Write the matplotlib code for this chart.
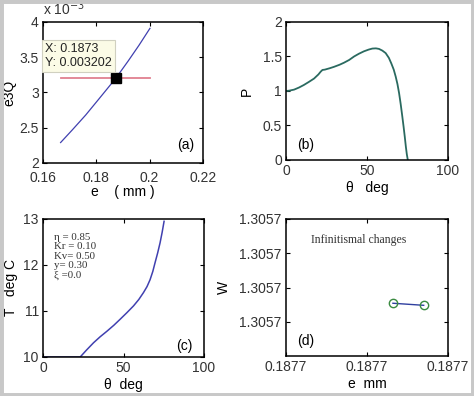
import matplotlib
matplotlib.use('Agg')
import matplotlib.pyplot as plt
from matplotlib.patches import Rectangle
from matplotlib.ticker import FuncFormatter, FixedLocator

# (a) e3Q versus eccentricity
e_a = [0.1666, 0.1710, 0.1760, 0.1810, 0.1873, 0.1920, 0.1960, 0.2001]
e3q_a = [2.29e-3, 2.47e-3, 2.68e-3, 2.91e-3, 3.202e-3, 3.45e-3, 3.67e-3, 3.91e-3]
hline_x = [0.1666, 0.2001]
hline_y = 3.202e-3
tip_x, tip_y = 0.1873, 0.003202

# (b) P versus theta
theta_b = [0, 2, 5, 8, 11, 14, 17.3, 20, 21.4, 22.5, 24, 27, 29.6, 33, 35.8, 39,
           42, 45, 48.1, 51, 53.3, 55.5, 57.4, 59.5, 61.5, 63.5, 65, 66.5, 67.7,
           68.8, 69.8, 70.8, 71.8, 72.6, 73.3, 74, 74.6, 75.2]
p_b = [1.0, 1.005, 1.02, 1.05, 1.087, 1.13, 1.18, 1.24, 1.28, 1.305, 1.31, 1.33,
       1.35, 1.38, 1.41, 1.45, 1.50, 1.54, 1.575, 1.60, 1.615, 1.618, 1.61, 1.585,
       1.55, 1.48, 1.40, 1.31, 1.21, 1.10, 0.97, 0.81, 0.63, 0.48, 0.34, 0.19,
       0.08, 0.0]

# (c) T versus theta
theta_c = [0, 10, 23.1, 27, 31.4, 35.5, 39.7, 44, 47.9, 52, 56.2, 59.5, 62.4,
           64.6, 66.5, 68.2, 69.6, 71.2, 72.7, 74, 75.2]
t_c = [10.0, 10.0, 10.0, 10.15, 10.31, 10.44, 10.56, 10.69, 10.82, 10.96, 11.11,
       11.25, 11.40, 11.53, 11.68, 11.86, 12.05, 12.26, 12.48, 12.71, 12.95]
params_c = ['\u03b7 = 0.85', 'Kr = 0.10', 'Kv= 0.50', 'y= 0.30', '\u03be =0.0']

# (d) W versus e (infinitesimal changes)
e_d = [0.1877332, 0.1877370]
w_d = [1.3057154, 1.3057148]
e_d_ticks = [0.18772, 0.18773, 0.18774]
w_d_ticks = [1.30571, 1.30572, 1.30573, 1.30574]

plt.rcParams['font.family'] = ['Liberation Sans', 'DejaVu Sans']
plt.rcParams['font.size'] = 10
serif = ['Liberation Serif', 'DejaVu Serif']

W, H = 474, 396
fig = plt.figure(figsize=(W / 100, H / 100), dpi=100)
fig.patches.append(Rectangle((0, 0), 1, 1, transform=fig.transFigure,
                             fill=False, edgecolor='#c8c8c8', linewidth=5))


def box(l, t, r, b):
    return [l / W, 1 - b / H, (r - l) / W, (b - t) / H]


def style(ax):
    for s in ax.spines.values():
        s.set_linewidth(1.1)
    ax.tick_params(direction='in', top=True, right=True, length=3,
                   labelsize=10, labelcolor='#333333', pad=3)


ax1 = fig.add_axes(box(43, 22, 203, 163))
ax2 = fig.add_axes(box(286, 22, 448, 160))
ax3 = fig.add_axes(box(43, 219, 204, 357))
ax4 = fig.add_axes(box(286, 219, 448, 356))

# (a)
ax1.plot(e_a, e3q_a, color='#4040b0', lw=0.9)
ax1.plot(hline_x, [hline_y, hline_y], color='#e08090', lw=1.3)
ax1.plot([tip_x], [tip_y], marker='s', color='black', ms=7)
ax1.set_xlim(0.16, 0.22)
ax1.set_ylim(2e-3, 4e-3)
ax1.set_xticks([0.16, 0.18, 0.2, 0.22])
ax1.set_yticks([2e-3, 2.5e-3, 3e-3, 3.5e-3, 4e-3])
ax1.xaxis.set_major_formatter(FuncFormatter(lambda v, p: '%g' % round(v, 4)))
ax1.yaxis.set_major_formatter(FuncFormatter(lambda v, p: '%g' % round(v * 1e3, 3)))
ax1.text(0.0, 1.025, 'x 10$^{-3}$', transform=ax1.transAxes, fontsize=10,
         color='#333333', va='bottom', ha='left')
ax1.text(0.015, 0.85, 'X: 0.1873\nY: 0.003202', transform=ax1.transAxes,
         fontsize=9, va='top', ha='left', color='#222222', linespacing=1.15,
         bbox=dict(boxstyle='square,pad=0.25', fc='#fbfbe6', ec='#d0d0c0', lw=0.8))
ax1.text(0.89, 0.13, '(a)', transform=ax1.transAxes, ha='center', va='center')
ax1.set_xlabel('e    ( mm )', labelpad=0)
ax1.set_ylabel('e3Q', labelpad=2)
style(ax1)
ax1.tick_params(axis='x', pad=6)

# (b)
ax2.plot(theta_b, p_b, color='#2a6a60', lw=1.3)
ax2.set_xlim(0, 100)
ax2.set_ylim(0, 2)
ax2.set_xticks([0, 50, 100])
ax2.set_yticks([0, 0.5, 1, 1.5, 2])
ax2.yaxis.set_major_formatter(FuncFormatter(lambda v, p: '%g' % v))
ax2.text(0.12, 0.11, '(b)', transform=ax2.transAxes, ha='center', va='center')
ax2.set_xlabel('\u03b8   deg', labelpad=2)
ax2.set_ylabel('P', labelpad=6)
style(ax2)

# (c)
ax3.plot(theta_c, t_c, color='#4040b0', lw=1.1)
ax3.set_xlim(0, 100)
ax3.set_ylim(10, 13)
ax3.set_xticks([0, 50, 100])
ax3.set_yticks([10, 11, 12, 13])
ax3.text(0.07, 0.90, '\n'.join(params_c), transform=ax3.transAxes, family=serif,
         fontsize=7.8, va='top', ha='left', color='#333333', linespacing=1.08)
ax3.text(0.88, 0.08, '(c)', transform=ax3.transAxes, ha='center', va='center')
ax3.set_xlabel('\u03b8  deg', labelpad=2)
ax3.set_ylabel('T   deg C', labelpad=4)
style(ax3)

# (d)
ax4.plot(e_d, w_d, color='#3040a0', lw=1.0, marker='o', mfc='none',
         mec='#3a8a40', ms=6, mew=1.0)
ax4.set_xlim(e_d_ticks[0], e_d_ticks[-1])
ax4.set_ylim(1.30570, 1.30574)
ax4.xaxis.set_major_locator(FixedLocator(e_d_ticks))
ax4.yaxis.set_major_locator(FixedLocator(w_d_ticks))
ax4.xaxis.set_major_formatter(FuncFormatter(lambda v, p: '%.4f' % v))
ax4.yaxis.set_major_formatter(FuncFormatter(lambda v, p: '%.4f' % v))
ax4.text(0.45, 0.85, 'Infinitismal changes', transform=ax4.transAxes,
         family=serif, fontsize=8.5, ha='center', va='center', color='#333333')
ax4.text(0.12, 0.11, '(d)', transform=ax4.transAxes, ha='center', va='center')
ax4.set_xlabel('e  mm', labelpad=2)
ax4.set_ylabel('W', labelpad=6)
style(ax4)

fig.savefig('out.png', dpi=100)
